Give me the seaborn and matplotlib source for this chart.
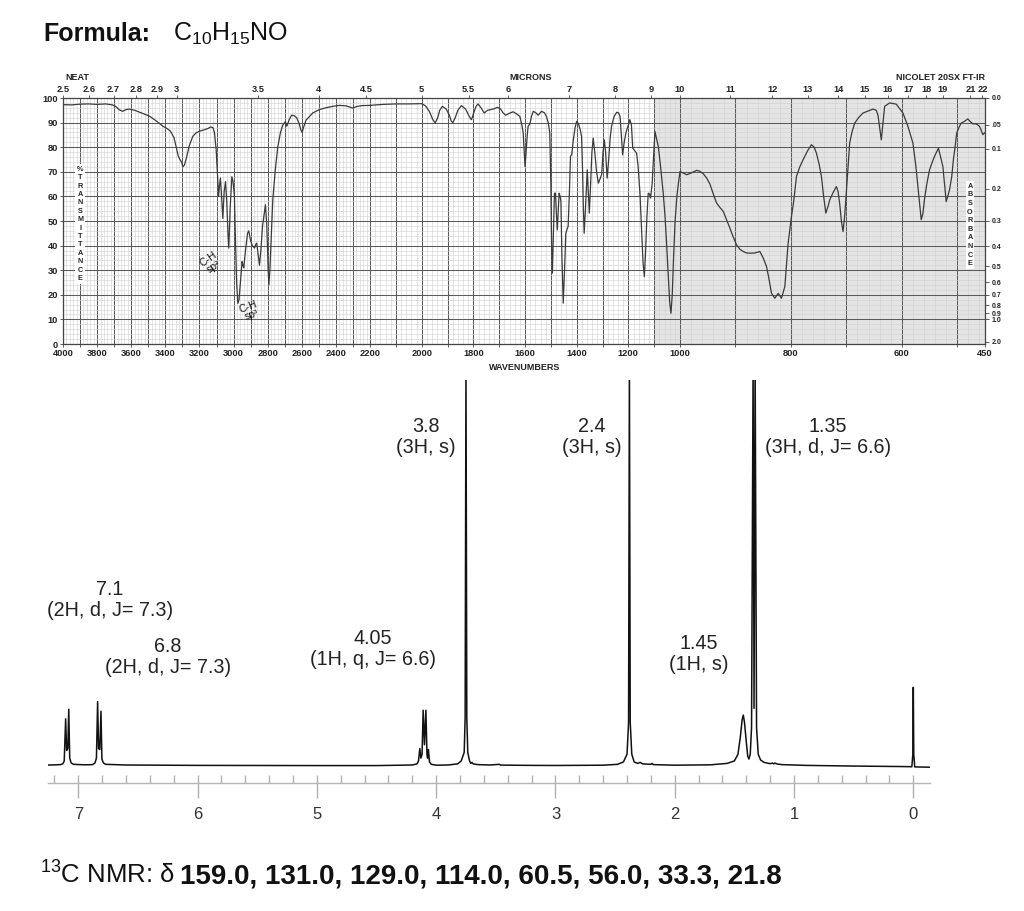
import numpy as np
import matplotlib
matplotlib.use("Agg")
import matplotlib.pyplot as plt
import seaborn as sns

# ---------------- data ----------------
ir_wavenumber = [
    4000, 3950, 3900, 3850, 3800, 3750, 3710, 3690, 3670, 3650, 3630, 3610, 3580, 3550, 3520, 3490,
    3450, 3414, 3390, 3370, 3350, 3336, 3325, 3315, 3305, 3297, 3288, 3275, 3260, 3239, 3220, 3200,
    3175, 3150, 3135, 3121, 3112, 3102, 3095, 3088, 3083, 3077, 3070, 3063, 3055, 3047, 3040, 3033,
    3028, 3020, 3010, 3003, 2995, 2988, 2982, 2975, 2968, 2960, 2950, 2945, 2940, 2930, 2918, 2911,
    2900, 2890, 2877, 2870, 2864, 2855, 2848, 2840, 2830, 2820, 2813, 2805, 2797, 2793, 2787, 2778,
    2770, 2755, 2741, 2725, 2711, 2696, 2688, 2675, 2660, 2645, 2630, 2615, 2605, 2598, 2590, 2575,
    2555, 2536, 2497, 2460, 2419, 2380, 2340, 2301, 2280, 2250, 2200, 2150, 2100, 2050, 2000, 1985,
    1970, 1958, 1948, 1938, 1930, 1920, 1905, 1893, 1885, 1879, 1870, 1860, 1846, 1830, 1818, 1810,
    1807, 1800, 1790, 1782, 1770, 1758, 1745, 1732, 1720, 1707, 1695, 1685, 1675, 1660, 1646, 1632,
    1620, 1612, 1607, 1603, 1600, 1597, 1592, 1588, 1581, 1575, 1568, 1558, 1549, 1536, 1525, 1517,
    1510, 1504, 1500, 1497, 1494, 1490, 1486, 1482, 1478, 1475, 1471, 1468, 1464, 1461, 1457, 1452,
    1447, 1442, 1436, 1433, 1428, 1424, 1419, 1413, 1406, 1400, 1393, 1386, 1381, 1377, 1374, 1371,
    1366, 1359, 1355, 1351, 1346, 1341, 1336, 1330, 1323, 1316, 1310, 1303, 1298, 1293, 1288, 1282,
    1276, 1270, 1265, 1255, 1245, 1238, 1232, 1227, 1222, 1216, 1209, 1200, 1194, 1188, 1183, 1175,
    1168, 1162, 1155, 1148, 1143, 1138, 1133, 1128, 1123, 1118, 1114, 1108, 1103, 1097, 1092, 1084,
    1075, 1065, 1058, 1052, 1045, 1040, 1035, 1030, 1025, 1019, 1012, 1006, 1000, 994, 988, 980,
    970, 964, 958, 952, 946, 940, 934, 928, 922, 916, 910, 904, 898, 892, 886, 880,
    874, 865, 856, 850, 844, 840, 835, 829, 823, 817, 811, 808, 805, 799, 795, 790,
    784, 778, 770, 763, 758, 754, 749, 745, 741, 737, 733, 730, 724, 718, 715, 712,
    709, 706, 703, 700, 697, 694, 690, 685, 678, 670, 660, 652, 646, 643, 640, 637,
    634, 631, 622, 610, 598, 589, 580, 575, 571, 568, 565, 562, 559, 555, 550, 545,
    541, 534, 530, 526, 523, 520, 517, 514, 510, 507, 504, 501, 497, 493, 487, 481,
    477, 472, 466, 460, 457, 454, 450,
]
ir_transmittance = [
    97.3, 97.2, 97.5, 97.6, 97.4, 97.6, 97.2, 96.5, 95.2, 94.6, 95.3, 95.5, 95.0, 94.2, 93.4, 92.5,
    90.5, 88.5, 87.6, 86.5, 84.0, 80.0, 76.5, 75.0, 74.0, 72.0, 72.8, 76.0, 80.5, 84.4, 85.8, 86.5,
    87.0, 87.6, 88.2, 88.0, 86.0, 79.0, 70.0, 60.0, 64.0, 67.4, 60.0, 51.0, 62.0, 66.0, 58.0, 45.0,
    39.0, 55.0, 68.0, 66.0, 60.0, 40.0, 25.0, 16.5, 18.0, 25.0, 33.5, 32.0, 31.0, 38.0, 45.0, 46.0,
    42.0, 40.0, 39.0, 40.5, 41.0, 36.0, 32.0, 38.0, 48.0, 53.0, 56.6, 48.0, 30.0, 24.0, 30.0, 45.0,
    58.6, 71.0, 80.0, 86.0, 89.0, 90.4, 88.5, 91.0, 93.0, 92.8, 92.0, 89.5, 87.0, 86.0, 88.0, 91.0,
    92.5, 93.9, 95.3, 96.0, 96.6, 97.0, 96.8, 95.9, 96.5, 96.9, 97.0, 97.4, 97.6, 97.6, 97.7, 96.8,
    94.5, 91.5, 89.8, 92.0, 95.0, 96.6, 95.5, 93.0, 90.5, 90.0, 92.0, 95.0, 96.9, 95.5, 93.0, 91.5,
    91.2, 93.5, 96.5, 97.6, 96.0, 93.9, 95.0, 95.3, 95.6, 96.2, 95.6, 94.0, 93.0, 93.8, 94.4, 93.5,
    92.5, 89.0, 85.8, 78.0, 72.2, 76.0, 84.0, 88.5, 89.5, 92.5, 94.6, 94.0, 93.0, 94.6, 94.0, 92.5,
    90.0, 85.8, 65.0, 40.0, 28.8, 45.0, 61.3, 61.3, 52.0, 46.4, 55.0, 61.3, 60.0, 58.0, 35.0, 16.6,
    30.0, 45.0, 47.0, 47.8, 62.0, 76.3, 77.0, 83.0, 88.0, 90.5, 89.5, 87.0, 84.4, 70.0, 55.0, 45.0,
    55.0, 70.8, 62.0, 53.2, 65.0, 78.0, 83.7, 78.0, 70.0, 65.4, 67.0, 69.0, 78.0, 83.0, 78.0, 67.4,
    75.0, 84.0, 88.5, 92.5, 94.2, 94.0, 92.5, 85.0, 76.9, 82.0, 86.0, 89.0, 91.2, 89.0, 79.6, 78.5,
    77.6, 72.0, 61.3, 45.0, 33.0, 27.4, 38.0, 52.0, 61.3, 61.0, 59.3, 65.0, 74.9, 86.4, 84.0, 80.3,
    72.0, 61.3, 52.0, 41.0, 27.0, 17.0, 12.5, 20.0, 35.0, 50.0, 60.0, 65.4, 70.1, 69.5, 68.8, 69.5,
    70.6, 70.2, 69.2, 67.5, 65.0, 61.0, 57.3, 55.5, 53.9, 50.5, 47.1, 43.5, 40.3, 38.5, 37.6, 37.0,
    36.9, 37.0, 37.6, 35.0, 31.5, 27.0, 20.6, 18.6, 20.6, 18.6, 23.3, 32.0, 41.0, 51.8, 58.0, 68.1,
    72.0, 74.9, 78.5, 81.0, 80.0, 77.6, 73.0, 68.1, 60.0, 53.2, 56.0, 58.6, 61.5, 64.0, 62.0, 57.0,
    50.0, 45.7, 52.0, 62.0, 72.0, 81.7, 86.0, 89.8, 92.0, 93.9, 94.8, 95.5, 95.0, 93.0, 88.0, 83.0,
    90.0, 96.6, 98.0, 97.5, 93.9, 88.5, 81.7, 73.0, 64.0, 57.0, 50.5, 53.0, 59.0, 65.0, 70.8, 74.0,
    76.3, 79.6, 76.0, 72.2, 65.0, 57.9, 60.0, 62.7, 68.0, 74.9, 80.0, 85.8, 88.0, 89.8, 90.5, 91.5,
    90.5, 89.5, 89.5, 88.5, 87.0, 85.1, 86.0,
]

nmr_ppm = [
    7.254, 7.20, 7.15, 7.13, 7.118, 7.106, 7.098, 7.088, 7.080, 7.072, 7.06, 7.04, 6.95, 6.88, 6.86,
    6.848, 6.838, 6.830, 6.820, 6.810, 6.802, 6.79, 6.77, 6.6, 6.0, 5.0, 4.5, 4.2, 4.16, 4.148,
    4.137, 4.128, 4.118, 4.109, 4.098, 4.086, 4.077, 4.072, 4.065, 4.056, 4.04, 4.0, 3.90, 3.82,
    3.79, 3.765, 3.757, 3.750, 3.743, 3.735, 3.72, 3.71, 3.70, 3.69, 3.65, 3.55, 3.47, 3.46, 3.2,
    3.0, 2.6, 2.48, 2.43, 2.40, 2.387, 2.380, 2.373, 2.36, 2.34, 2.31, 2.29, 2.27, 2.20, 2.19,
    2.18, 2.0, 1.7, 1.56, 1.50, 1.47, 1.45, 1.435, 1.425, 1.415, 1.40, 1.388, 1.378, 1.367, 1.356,
    1.343, 1.335, 1.326, 1.314, 1.30, 1.28, 1.25, 1.20, 1.18, 1.17, 1.16, 1.14, 1.10, 0.90, 0.5,
    0.1, 0.012, 0.004, 0.0, -0.004, -0.012, -0.14,
]
nmr_intensity = [
    0.8, 0.9, 1.2, 2.0, 5.0, 49, 16, 18, 59, 8, 3, 1.5, 1.0, 1.2, 3,
    8, 67, 18, 17, 57, 7, 3, 1.5, 0.8, 0.4, 0.2, 0.2, 0.8, 2, 5,
    18, 8, 12, 58, 22, 58, 12, 8, 17, 4, 1.5, 0.6, 0.8, 2.0,
    5, 14, 50, 420, 50, 14, 5, 2.5, 3.5, 2.0, 1.2, 0.8, 1.5, 0.7, 0.4,
    0.3, 0.6, 1.5, 4, 12, 45, 420, 45, 12, 4, 2.5, 3.5, 2.0, 1.5, 2.5,
    1.2, 0.6, 1.0, 2.5, 5, 12, 30, 48, 53, 45, 25, 10, 7, 12, 40,
    420, 60, 420, 40, 12, 6, 3.5, 2.2, 2.8, 2.0, 2.8, 1.8, 1.2, 0.4, -0.3,
    -0.8, -1.0, 12, 82, 12, -1.2, -1.5,
]

ir_labelled_wn = [4000, 3800, 3600, 3400, 3200, 3000, 2800, 2600, 2400, 2200, 2000,
                  1800, 1600, 1400, 1200, 1000, 800, 600, 450]
micron_labels = ["2.5", "2.6", "2.7", "2.8", "2.9", "3", "3.5", "4", "4.5", "5", "5.5", "6",
                 "7", "8", "9", "10", "11", "12", "13", "14", "15", "16", "17", "18", "19", "21", "22"]
absorbance_labels = ["0.0", ".05", "0.1", "0.2", "0.3", "0.4", "0.5", "0.6", "0.7", "0.8",
                     "0.9", "1.0", "2.0"]
nmr_tick_ppm = [7, 6, 5, 4, 3, 2, 1, 0]

peak_labels = [
    ("7.1\n(2H, d, J= 7.3)", 110, 600),
    ("6.8\n(2H, d, J= 7.3)", 168, 657),
    ("4.05\n(1H, q, J= 6.6)", 373, 649),
    ("3.8\n(3H, s)", 426, 437),
    ("2.4\n(3H, s)", 592, 437),
    ("1.45\n(1H, s)", 699, 654),
    ("1.35\n(3H, d, J= 6.6)", 828, 437),
]

# ---------------- style ----------------
sns.set_theme(style="white")
plt.rcParams["font.family"] = ["Liberation Sans", "DejaVu Sans"]
plt.rcParams["mathtext.fontset"] = "custom"
plt.rcParams["mathtext.rm"] = "Liberation Sans"
plt.rcParams["mathtext.it"] = "Liberation Sans:italic"
plt.rcParams["mathtext.bf"] = "Liberation Sans:bold"

W, H = 1024, 911
fig = plt.figure(figsize=(W / 100, H / 100), dpi=100)
fig.patch.set_facecolor("white")


def fx(px):
    return px / W


def fy(py):
    return 1 - py / H


# piecewise-linear chart-paper scale for wavenumber (increasing transform)
BRK_WN = np.array([450.0, 1000.0, 2200.0, 4000.0])
BRK_POS = np.array([0.0, 305.0, 615.0, 922.0])


def wn_fwd(w):
    return np.interp(np.asarray(w, float), BRK_WN, BRK_POS)


def wn_inv(p):
    return np.interp(np.asarray(p, float), BRK_POS, BRK_WN)


# ---------------- IR panel ----------------
ax = fig.add_axes([fx(63), fy(344), 922 / W, 246 / H])
ax.set_xscale("function", functions=(wn_fwd, wn_inv))
ax.set_xlim(4000, 450)
ax.set_ylim(0, 100)
ax.axvspan(1100, 450, color="#e4e4e4", zorder=0, lw=0)

major_x = list(range(4000, 450, -100)) + [450]
minor_x = [w for w in range(4000, 450, -20) if w % 100 != 0]
ax.set_xticks(major_x)
ax.set_xticklabels([str(w) if w in ir_labelled_wn else "" for w in major_x])
ax.set_xticks(minor_x, minor=True)
ax.set_yticks(range(0, 101, 10))
ax.set_yticks(range(0, 101, 2), minor=True)
ax.grid(which="major", color="#5a5a5a", lw=0.75)
ax.grid(which="minor", color="#cfcfcf", lw=0.4)
ax.set_axisbelow(True)
ax.tick_params(axis="both", which="major", labelsize=6.7, length=2, width=0.6,
               color="#444", labelcolor="#222", pad=1.5)
ax.tick_params(axis="both", which="minor", length=0)
for lbl in ax.get_xticklabels() + ax.get_yticklabels():
    lbl.set_fontweight("bold")
for s in ax.spines.values():
    s.set_color("#444")
    s.set_linewidth(0.9)

sns.lineplot(x=ir_wavenumber, y=ir_transmittance, ax=ax, color="#3a3a3a", lw=0.9,
             sort=False, estimator=None)
ax.set_xlabel("")
ax.set_ylabel("")
ax.set_xlim(4000, 450)

# top micron axis
axt = ax.twiny()
axt.set_xscale("function", functions=(wn_fwd, wn_inv))
axt.set_xlim(4000, 450)
axt.set_xticks([1e4 / float(m) for m in micron_labels])
axt.set_xticklabels(micron_labels)
axt.tick_params(axis="x", labelsize=6.7, length=2, width=0.6, color="#444",
                labelcolor="#222", pad=1)
axt.tick_params(axis="x", which="minor", length=0)
for lbl in axt.get_xticklabels():
    lbl.set_fontweight("bold")
for s in axt.spines.values():
    s.set_visible(False)
axt.set_xlim(4000, 450)

# right absorbance axis
axr = ax.twinx()
axr.set_ylim(0, 100)
axr.set_yticks([100 * 10 ** (-float(a)) for a in absorbance_labels])
axr.set_yticklabels(absorbance_labels)
axr.tick_params(axis="y", labelsize=5, length=3, width=0.6, color="#444",
                labelcolor="#222", pad=1.5)
for lbl in axr.get_yticklabels():
    lbl.set_fontweight("bold")
for s in axr.spines.values():
    s.set_visible(False)

hdr = dict(fontsize=6.5, fontweight="bold", color="#222", va="center")
fig.text(fx(65), fy(78), "NEAT", ha="left", **hdr)
fig.text(fx(531), fy(78), "MICRONS", ha="center", **hdr)
fig.text(fx(985), fy(78), "NICOLET 20SX FT-IR", ha="right", **hdr)
fig.text(fx(525), fy(367), "WAVENUMBERS", ha="center", **hdr)

fig.text(fx(80), fy(224), "\n".join("%TRANSMITTANCE"), ha="center", va="center",
         fontsize=5.2, fontweight="bold", color="#222", linespacing=1.28,
         bbox=dict(fc="white", ec="none", pad=1.2))
fig.text(fx(970), fy(225), "\n".join("ABSORBANCE"), ha="center", va="center",
         fontsize=5.2, fontweight="bold", color="#222", linespacing=1.32,
         bbox=dict(fc="white", ec="none", pad=1.2))

# hand-written annotations
fig.text(fx(211), fy(263), "C-H\nsp²", ha="center", va="center", fontsize=7.5,
         rotation=35, color="#111", linespacing=0.9)
fig.text(fx(250), fy(311), "C-H\nsp³", ha="center", va="center", fontsize=7.5,
         rotation=20, color="#111", linespacing=0.9)

# ---------------- NMR panel ----------------
axn = fig.add_axes([fx(48), fy(783), 882 / W, 403 / H])
axn.set_xlim(7.254, -0.14)
axn.set_ylim(-18, 403)
sns.lineplot(x=nmr_ppm, y=nmr_intensity, ax=axn, color="#111111", lw=1.1,
             sort=False, estimator=None)
axn.set_xlabel("")
axn.set_ylabel("")
axn.set_yticks([])
for side in ("left", "right", "top"):
    axn.spines[side].set_visible(False)
axn.spines["bottom"].set_color("#b5b5b5")
axn.spines["bottom"].set_linewidth(1.0)
axn.set_xticks(nmr_tick_ppm)
axn.set_xticklabels([str(t) for t in nmr_tick_ppm])
axn.set_xticks(np.round(np.arange(-0.0, 7.21, 0.2), 1), minor=True)
axn.xaxis.remove_overlapping_locs = False
axn.tick_params(axis="x", which="major", direction="out", length=11, width=1.0,
                color="#b0b0b0", labelsize=12, labelcolor="#333", pad=6, bottom=True)
axn.tick_params(axis="x", which="minor", direction="in", length=6, width=1.0,
                color="#b0b0b0", bottom=True)
axn.patch.set_alpha(0)
axn.set_xlim(7.254, -0.14)

for txt, px, py in peak_labels:
    fig.text(fx(px), fy(py), txt, ha="center", va="center", fontsize=14.2,
             color="#222", linespacing=1.1, multialignment="center")

# ---------------- titles ----------------
fig.text(fx(43), fy(41), "Formula:", fontsize=18, fontweight="bold", color="#111",
         va="baseline", ha="left")
fig.text(fx(173), fy(41), "C$_{10}$H$_{15}$NO", fontsize=18, color="#111",
         va="baseline", ha="left")

fig.text(fx(40), fy(884), "$^{13}$C NMR: δ", fontsize=18.5, color="#111",
         va="baseline", ha="left")
fig.text(fx(180), fy(884), "159.0, 131.0, 129.0, 114.0, 60.5, 56.0, 33.3, 21.8",
         fontsize=20, fontweight="bold", color="#111", va="baseline", ha="left")

fig.savefig("out.png", dpi=100, facecolor="white")
